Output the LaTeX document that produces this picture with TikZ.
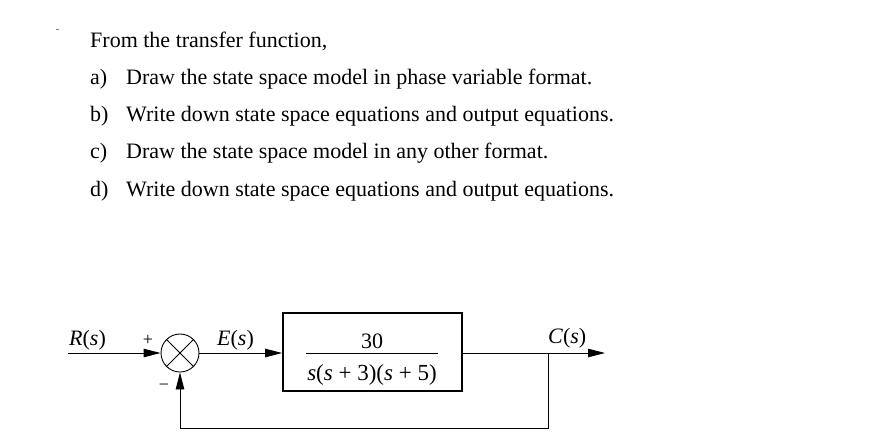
\documentclass[tikz,border=0pt]{standalone}
\usepackage{fontspec}
\setmainfont{Liberation Serif}
\usetikzlibrary{arrows.meta}
\begin{document}
\begin{tikzpicture}[x=1pt,y=-1pt,
  txt/.style={anchor=base west,inner sep=0pt,font=\fontsize{22}{26}\selectfont},
  lab/.style={anchor=base west,inner sep=0pt,font=\fontsize{22}{26}\selectfont},
  sig/.style={line width=0.9pt},
  arr/.style={sig,-{Triangle[length=17pt,width=8.5pt]}},
  blk/.style={draw,line width=1.8pt,minimum width=179pt,minimum height=78pt,inner sep=0pt},
  sumj/.style={draw,circle,line width=0.9pt,minimum size=38pt,inner sep=0pt}]
\useasboundingbox (0,0) rectangle (884,440);
\draw[gray,line width=0.6pt] (56,29) -- (59,29);
\node[txt] (t0) at (90,47) {From the transfer function,};
\node[txt] (la) at (90,84) {a)};
\node[txt] (ta) at (126,84) {Draw the state space model in phase variable format.};
\node[txt] (lb) at (90,121) {b)};
\node[txt] (tb) at (126,121) {Write down state space equations and output equations.};
\node[txt] (lc) at (90,158) {c)};
\node[txt] (tc) at (126,158) {Draw the state space model in any other format.};
\node[txt] (ld) at (90,196) {d)};
\node[txt] (td) at (126,196) {Write down state space equations and output equations.};
% diagram
\coordinate (in) at (68,353);
\node[sumj] (sum) at (180,353) {};
\draw[sig] (sum.north west) -- (sum.south east) (sum.north east) -- (sum.south west);
\node[blk] (G) at (372.5,352) {};
\node[anchor=base,inner sep=0pt,font=\fontsize{22}{26}\selectfont] (num) at (372,348) {30};
\node[anchor=base,inner sep=0pt,font=\fontsize{23}{26}\selectfont] (den) at (372,380) {\textit{s}(\textit{s} + 3)(\textit{s} + 5)};
\draw[sig] (306,353) -- (438,353);
\coordinate (out) at (605,353);
\coordinate (br) at (548,353);
\coordinate (fb1) at (548,428);
\coordinate (fb2) at (180,428);
\draw[arr] (in) -- (sum.west);
\draw[arr] (sum.east) -- (G.west |- sum.east);
\draw[arr] (G.east |- out) -- (out);
\draw[sig] (br) -- (fb1) -- (fb2);
\draw[arr] (fb2) -- (sum.south);
\node[lab] (R) at (69,345) {\textit{R}(\textit{s})};
\node[lab] (E) at (217,345) {\textit{E}(\textit{s})};
\node[lab] (C) at (548,343) {\textit{C}(\textit{s})};
\node[anchor=base,inner sep=0pt,font=\fontsize{18}{20}\selectfont] (plus) at (148,345) {+};
\node[anchor=base,inner sep=0pt,font=\fontsize{18}{20}\selectfont] (minus) at (164,390) {\char"2212};
\end{tikzpicture}
\end{document}
